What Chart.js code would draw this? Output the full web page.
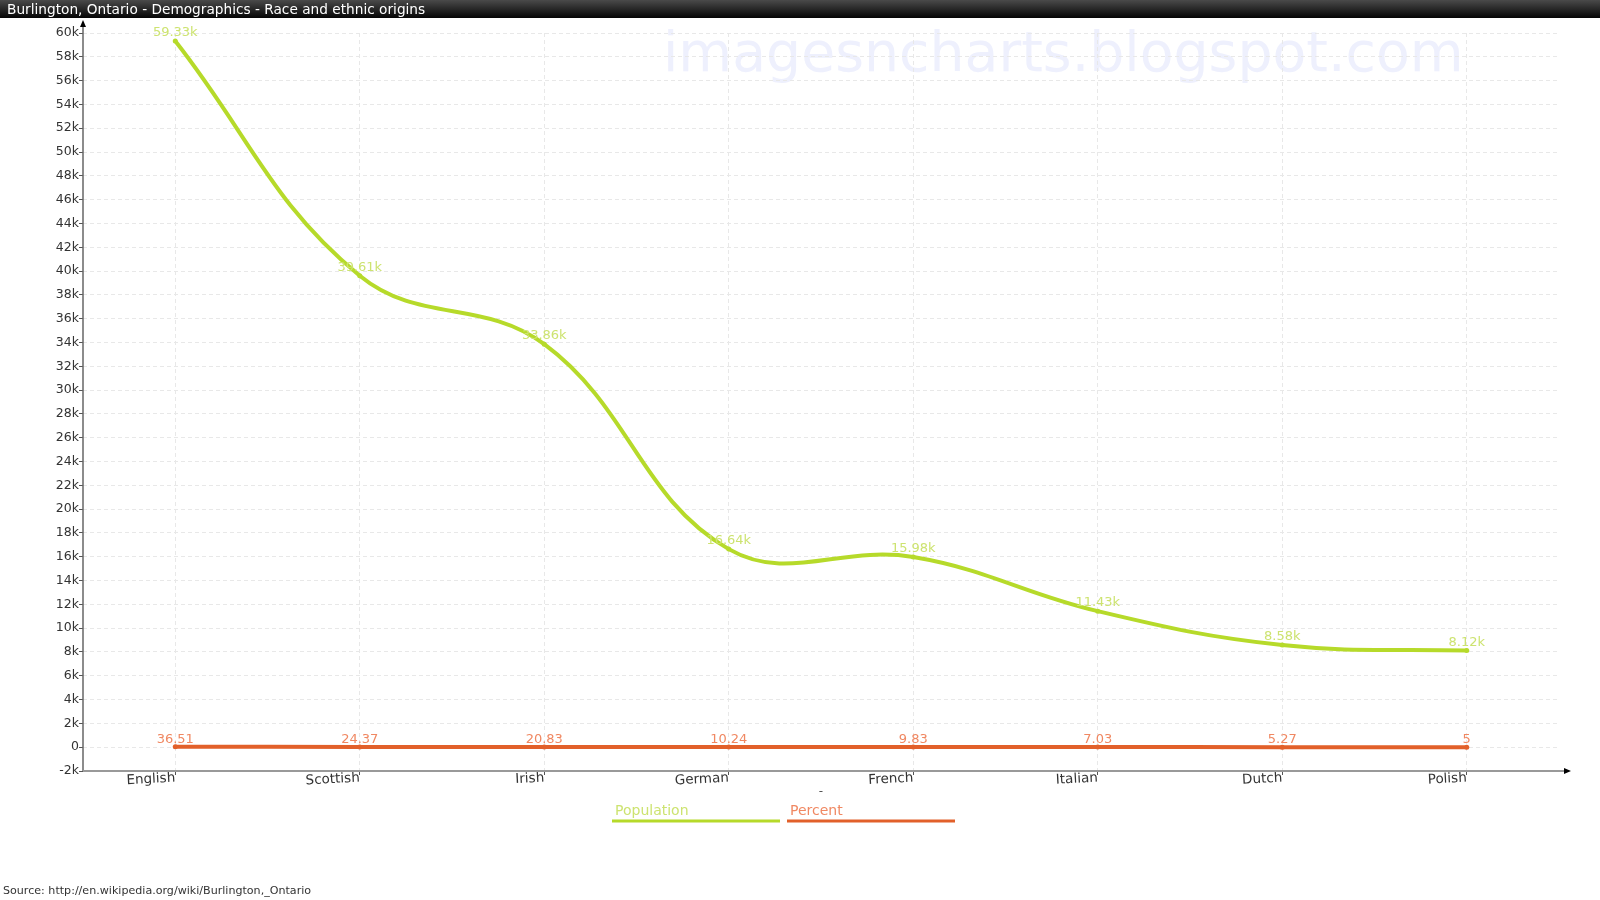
<!DOCTYPE html>
<html><head><meta charset="utf-8">
<script src="https://cdn.jsdelivr.net/npm/chart.js@4.4.0/dist/chart.umd.min.js"></script>
<style>html,body{margin:0;padding:0;background:#fff;}#wrap{width:1600px;height:900px;position:relative;overflow:hidden}</style>
</head><body><div id="wrap"><canvas id="c" width="1600" height="900"></canvas></div>
<script>
const chartTitle = 'Burlington, Ontario - Demographics - Race and ethnic origins';
const categories = ['English', 'Scottish', 'Irish', 'German', 'French', 'Italian', 'Dutch', 'Polish'];
const population = [59330, 39610, 33860, 16640, 15980, 11430, 8580, 8120];
const percent = [36.51, 24.37, 20.83, 10.24, 9.83, 7.03, 5.27, 5];
const populationLabels = ['59.33k', '39.61k', '33.86k', '16.64k', '15.98k', '11.43k', '8.58k', '8.12k'];
const percentLabels = ['36.51', '24.37', '20.83', '10.24', '9.83', '7.03', '5.27', '5'];
const seriesNames = ['Population', 'Percent'];
const yMin = -2000, yMax = 60000, yStep = 2000;
const xAxisTitle = '-';
const sourceText = 'Source: http://en.wikipedia.org/wiki/Burlington,_Ontario';
const watermarkText = 'imagesncharts.blogspot.com';

const FONT = '"DejaVu Sans", Verdana, sans-serif';
const popColor = '#b6da2a', popLabelColor = '#cde370';
const pctColor = '#e2602a', pctLabelColor = '#f08862';
const lineColors = [popColor, pctColor];
const labelColors = [popLabelColor, pctLabelColor];
const valueLabels = [populationLabels, percentLabels];

const decor = {
  id: 'decor',
  beforeDraw(chart) {
    const ctx = chart.ctx;
    ctx.save();
    ctx.fillStyle = '#fff';
    ctx.fillRect(0, 0, chart.width, chart.height);
    // watermark
    ctx.font = '60px ' + FONT;
    const w = ctx.measureText(watermarkText).width;
    const target = 801;
    const size = 60 * target / w;
    ctx.font = size.toFixed(1) + 'px ' + FONT;
    ctx.fillStyle = '#eef0fd';
    ctx.textAlign = 'left';
    ctx.textBaseline = 'alphabetic';
    ctx.fillText(watermarkText, 663, 71);
    ctx.restore();
  },
  afterDraw(chart) {
    const ctx = chart.ctx;
    const a = chart.chartArea;
    ctx.save();
    // title bar
    const g = ctx.createLinearGradient(0, 0, 0, 18);
    g.addColorStop(0, '#4a4a4a');
    g.addColorStop(1, '#050505');
    ctx.fillStyle = g;
    ctx.fillRect(0, 0, chart.width, 18);
    ctx.fillStyle = '#fff';
    ctx.font = '13.7px ' + FONT;
    ctx.textAlign = 'left';
    ctx.textBaseline = 'alphabetic';
    ctx.fillText(chartTitle, 7, 14);

    // axes
    ctx.strokeStyle = '#666';
    ctx.lineWidth = 1.5;
    ctx.beginPath();
    ctx.moveTo(a.left, a.bottom);
    ctx.lineTo(a.left, a.top - 9);
    ctx.stroke();
    ctx.strokeStyle = '#999';
    ctx.lineWidth = 2;
    ctx.beginPath();
    ctx.moveTo(a.left, a.bottom);
    ctx.lineTo(a.right + 6, a.bottom);
    ctx.stroke();
    ctx.fillStyle = '#000';
    ctx.beginPath();
    ctx.moveTo(a.left, a.top - 13);
    ctx.lineTo(a.left - 3, a.top - 6);
    ctx.lineTo(a.left + 3, a.top - 6);
    ctx.closePath();
    ctx.fill();
    ctx.beginPath();
    ctx.moveTo(a.right + 12, a.bottom);
    ctx.lineTo(a.right + 5, a.bottom - 3);
    ctx.lineTo(a.right + 5, a.bottom + 3);
    ctx.closePath();
    ctx.fill();

    // value labels
    ctx.font = '13px ' + FONT;
    ctx.textAlign = 'center';
    ctx.textBaseline = 'alphabetic';
    chart.data.datasets.forEach((ds, di) => {
      const meta = chart.getDatasetMeta(di);
      ctx.fillStyle = labelColors[di];
      meta.data.forEach((pt, i) => {
        ctx.fillText(valueLabels[di][i], pt.x, pt.y - (di === 0 ? 5 : 4));
      });
    });

    // x axis title
    ctx.fillStyle = '#555';
    ctx.font = '12px ' + FONT;
    ctx.fillText(xAxisTitle, (a.left + a.right) / 2, 795);

    // legend
    const itemW = 168, gap = 7;
    let lx = 612;
    seriesNames.forEach((name, i) => {
      ctx.strokeStyle = lineColors[i];
      ctx.lineWidth = 3;
      ctx.beginPath();
      ctx.moveTo(lx, 821);
      ctx.lineTo(lx + itemW, 821);
      ctx.stroke();
      ctx.fillStyle = labelColors[i];
      ctx.font = '14px ' + FONT;
      ctx.textAlign = 'left';
      ctx.fillText(name, lx + 3, 815);
      lx += itemW + gap;
    });

    // source
    ctx.fillStyle = '#333';
    ctx.font = '11.1px ' + FONT;
    ctx.textAlign = 'left';
    ctx.fillText(sourceText, 3, 894);
    ctx.restore();
  }
};

new Chart(document.getElementById('c'), {
  type: 'line',
  data: {
    labels: categories,
    datasets: [
      { label: seriesNames[0], data: population, borderColor: popColor, backgroundColor: popColor,
        borderWidth: 4, tension: 0.4, pointRadius: 2.5, pointBorderWidth: 0, pointBackgroundColor: popColor, fill: false },
      { label: seriesNames[1], data: percent, borderColor: pctColor, backgroundColor: pctColor,
        borderWidth: 4, tension: 0.4, pointRadius: 2.5, pointBorderWidth: 0, pointBackgroundColor: pctColor, fill: false }
    ]
  },
  options: {
    responsive: false,
    animation: false,
    devicePixelRatio: 1,
    layout: { padding: { top: 33, right: 41, bottom: 90, left: 0 } },
    plugins: { legend: { display: false }, title: { display: false }, tooltip: { enabled: false } },
    scales: {
      x: {
        type: 'category',
        offset: true,
        grid: { color: '#e8e8e8', lineWidth: 1, drawTicks: true, tickLength: 4, tickColor: '#555', offset: false },
        border: { display: false, dash: [4, 3] },
        ticks: { font: { family: FONT, size: 13.5 }, color: '#333', minRotation: 3, maxRotation: 3, autoSkip: false, padding: -5 },
        afterFit(scale) { scale.height = 39; }
      },
      y: {
        min: yMin, max: yMax,
        grid: { color: '#e8e8e8', lineWidth: 1, drawTicks: true, tickLength: 4, tickColor: '#555' },
        border: { display: false, dash: [4, 3] },
        ticks: { stepSize: yStep, font: { family: FONT, size: 12.5 }, color: '#333', padding: 0,
          callback: v => (v === 0 ? '0' : (v / 1000) + 'k') },
        afterFit(scale) { scale.width = 83; }
      }
    }
  },
  plugins: [decor]
});
</script>
</body></html>
